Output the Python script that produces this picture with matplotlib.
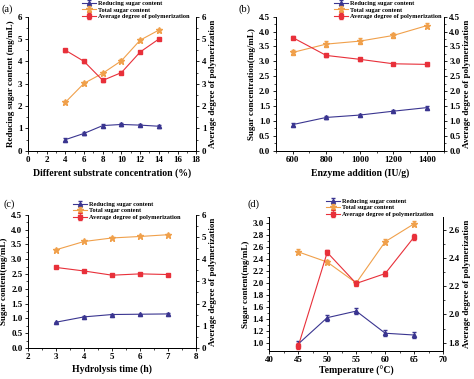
import numpy as np
import matplotlib
matplotlib.use("Agg")
from matplotlib import pyplot as plt
from matplotlib.ticker import AutoMinorLocator

plt.rcParams['font.family'] = ['Liberation Serif', 'DejaVu Serif']
plt.rcParams['font.weight'] = 'bold'

# (a) substrate concentration
xa = [4, 6, 8, 10, 12, 14]
red_a = [0.50, 0.78, 1.13, 1.18, 1.15, 1.10]
tot_a = [2.17, 3.02, 3.47, 4.03, 4.95, 5.40]
dp_a = [4.50, 4.00, 3.15, 3.50, 4.42, 5.00]

# (b) enzyme addition
xb = [600, 800, 1000, 1200, 1400]
red_b = [0.88, 1.12, 1.20, 1.33, 1.45]
tot_b = [3.30, 3.58, 3.68, 3.87, 4.20]
dp_b = [3.80, 3.20, 3.07, 2.92, 2.90]

# (c) hydrolysis time
xc = [3, 4, 5, 6, 7]
red_c = [0.87, 1.05, 1.13, 1.14, 1.15]
tot_c = [3.32, 3.60, 3.72, 3.77, 3.83]
dp_c = [3.63, 3.47, 3.28, 3.34, 3.31]

# (d) temperature
xd = [45, 50, 55, 60, 65]
red_d = [0.98, 1.42, 1.53, 1.16, 1.13]
tot_d = [2.52, 2.35, 2.00, 2.69, 2.99]
dp_d = [1.775, 2.44, 2.22, 2.29, 2.55]

c_red = '#3a3590'
c_tot = '#f0a04b'
c_dp = '#e8303a'

fig = plt.figure(figsize=(4.74, 3.79), dpi=100)

panels = [
    dict(tag='(a)', tagpos=(0.004, 0.97), rect=[0.059, 0.602, 0.355, 0.354], x=xa, r=red_a, t=tot_a, d=dp_a,
         xlim=(0, 18), xt=np.arange(0, 19, 2), yl=(0, 6), yt=np.arange(0, 7, 1),
         yr=(0, 6), yrt=np.arange(0, 7, 1), fmt='%d', rfmt='%d',
         xlabel='Different substrate concentration (%)', ylabel='Reducing sugar content (mg/mL)',
         err=(0.06, 0.07, 0.06), leg=(0.172, 1.0), lp=3),
    dict(tag='(b)', tagpos=(0.504, 0.97), rect=[0.582, 0.602, 0.354, 0.354], x=xb, r=red_b, t=tot_b, d=dp_b,
         xlim=(500, 1500), xt=[600, 800, 1000, 1200, 1400], yl=(0, 4.5), yt=np.arange(0, 4.6, 0.5),
         yr=(0, 4.5), yrt=np.arange(0, 4.6, 0.5), fmt='%.1f', rfmt='%.1f',
         xlabel='Enzyme addition (IU/g)', ylabel='Sugar concentration(mg/mL)',
         err=(0.04, 0.09, 0.04), leg=(0.703, 1.0), lp=3),
    dict(tag='(c)', tagpos=(0.008, 0.455), rect=[0.059, 0.082, 0.355, 0.351], x=xc, r=red_c, t=tot_c, d=dp_c,
         xlim=(2, 8), xt=np.arange(2, 9, 1), yl=(0, 4.5), yt=np.arange(0, 4.6, 0.5),
         yr=(0, 6), yrt=np.arange(0, 7, 1), fmt='%.1f', rfmt='%d',
         xlabel='Hydrolysis time (h)', ylabel='Sugar content(mg/mL)',
         err=(0.02, 0.03, 0.03), leg=(0.152, 0.47), lp=2),
    dict(tag='(d)', tagpos=(0.522, 0.455), rect=[0.568, 0.075, 0.367, 0.352], x=xd, r=red_d, t=tot_d, d=dp_d,
         xlim=(40, 70), xt=np.arange(40, 71, 5), yl=(0.87, 3.1), yt=np.arange(1.0, 3.01, 0.2),
         yr=(1.744, 2.69), yrt=np.arange(1.8, 2.61, 0.2), fmt='%.1f', rfmt='%.1f',
         xlabel='Temperature (\u00b0C)', ylabel='Sugar content(mg/mL)',
         err=(0.05, 0.04, 0.02), leg=(0.686, 0.478), lp=1),
]

for p in panels:
    ax = fig.add_axes(p['rect'])
    ax2 = ax.twinx()
    er, et, ed = p['err']
    l1 = ax.errorbar(p['x'], p['r'], yerr=er, color=c_red, marker='^', ms=3, lw=0.8,
                     capsize=1.5, elinewidth=0.6, label='Reducing sugar content')
    l2 = ax.errorbar(p['x'], p['t'], yerr=et, color=c_tot, marker='*', ms=4.5, lw=0.8,
                     capsize=1.5, elinewidth=0.6, label='Total sugar content')
    l3 = ax2.errorbar(p['x'], p['d'], yerr=ed, color=c_dp, marker='s', ms=3, lw=0.8,
                      capsize=1.5, elinewidth=0.6, label='Average degree of polymerization')
    ax.set_xlim(*p['xlim'])
    ax.set_xticks(p['xt'])
    ax.set_ylim(*p['yl'])
    ax.set_yticks(p['yt'])
    ax.set_yticklabels([p['fmt'] % v for v in p['yt']])
    ax2.set_ylim(*p['yr'])
    ax2.set_yticks(p['yrt'])
    ax2.set_yticklabels([p['rfmt'] % v for v in p['yrt']])
    for a in (ax, ax2):
        a.spines['top'].set_visible(False)
        for s in a.spines.values():
            s.set_linewidth(0.7)
        a.tick_params(labelsize=6.5, length=2.5, width=0.6, pad=1.5)
        a.tick_params(which='minor', length=1.3, width=0.5)
        a.yaxis.set_minor_locator(AutoMinorLocator(2))
    ax.xaxis.set_minor_locator(AutoMinorLocator(2))
    ax.set_xlabel(p['xlabel'], fontsize=7, fontweight='bold', labelpad=p['lp'])
    ax.set_ylabel(p['ylabel'], fontsize=6.5, fontweight='bold', labelpad=2)
    ax2.set_ylabel('Average degree of polymerization', fontsize=6.5, fontweight='bold', labelpad=2)
    fig.text(p['tagpos'][0], p['tagpos'][1], p['tag'], fontsize=7.5, fontweight='normal')
    fig.legend(handles=[l1, l2, l3], loc='upper left', bbox_to_anchor=p['leg'],
               fontsize=4.6, frameon=False, handlelength=2.2, handletextpad=0.3,
               labelspacing=0.15, borderaxespad=0, borderpad=0.1)

fig.savefig('out.png', dpi=100)
